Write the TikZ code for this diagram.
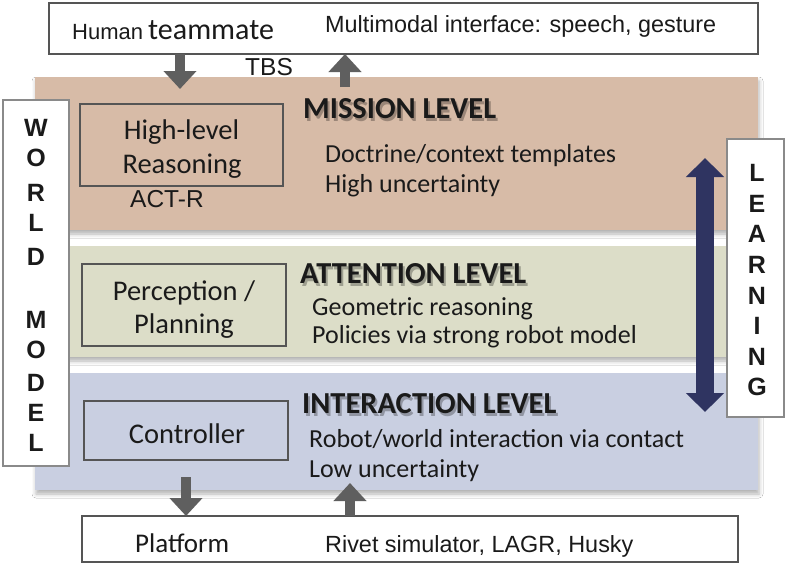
\documentclass[tikz,border=0pt]{standalone}
\usepackage{fontspec}
\newfontfamily\carlito{Carlito}
\newfontfamily\arialf{Liberation Sans}
\usetikzlibrary{arrows.meta,shadows.blur}
\definecolor{mission}{HTML}{D7BBA7}
\definecolor{attention}{HTML}{DCDDC8}
\definecolor{interact}{HTML}{C9CFE1}
\definecolor{boxline}{HTML}{555555}
\definecolor{sideline}{HTML}{8A8A8A}
\definecolor{arrowgray}{HTML}{5F5F5F}
\definecolor{navyarrow}{HTML}{2F3461}
\definecolor{ink}{HTML}{1A1A1A}
\tikzset{
  band/.style={draw=none, anchor=north west, inner sep=0pt, outer sep=0pt,
    blur shadow={shadow xshift=1pt, shadow yshift=-4pt, shadow blur radius=4pt, shadow opacity=30}},
  inbox/.style={draw=boxline, line width=2pt, anchor=north west, inner sep=0pt, outer sep=0pt},
  whitebox/.style={draw=boxline, fill=white, line width=2pt, anchor=north west, inner sep=0pt, outer sep=0pt},
  sidebox/.style={draw=sideline, fill=white, line width=2.5pt, anchor=north west, inner sep=0pt, outer sep=0pt},
  atxt/.style={font=\arialf\fontsize{23.4}{28}\selectfont, text=ink, inner sep=0pt, anchor=base west},
  ctxt/.style={font=\carlito\fontsize{26}{30}\selectfont, text=ink, inner sep=0pt, anchor=base west},
  btxt/.style={font=\carlito\fontsize{28.5}{34}\selectfont, text=ink, inner sep=0pt, anchor=base},
  ttl/.style={font=\carlito\bfseries\fontsize{30.5}{34}\selectfont, text=ink, inner sep=0pt, anchor=base west},
  ttlsh/.style={font=\carlito\bfseries\fontsize{30.5}{34}\selectfont, text=black, opacity=0.28, inner sep=0pt, anchor=base west},
  letter/.style={font=\arialf\bfseries\fontsize{25}{28}\selectfont, text=ink, inner sep=0pt},
  blockarrow/.style={draw=arrowgray, line width=9.5pt, -{Triangle[width=32pt,length=18pt]}},
  learnarrow/.style={draw=navyarrow, line width=18pt, {Triangle[width=37pt,length=19pt]}-{Triangle[width=37pt,length=19pt]}}
}
\begin{document}
\begin{tikzpicture}[x=1pt,y=-1pt]
\useasboundingbox[fill=white] (0,0) rectangle (787,568);

% level bands
\node[band, fill=mission, minimum width=723pt, minimum height=153pt] (mband) at (35,77) {};
\node[band, fill=attention, minimum width=723pt, minimum height=111pt] (aband) at (35,246) {};
\node[band, fill=interact, minimum width=723pt, minimum height=117pt] (iband) at (35,373) {};

% top and bottom boxes
\node[whitebox, minimum width=709pt, minimum height=51pt] (top) at (49,3) {};
\node[whitebox, minimum width=656pt, minimum height=46pt] (plat) at (82,516) {};

% inner boxes
\node[inbox, minimum width=203pt, minimum height=82pt] (hlr) at (80,104) {};
\node[inbox, minimum width=204pt, minimum height=82pt] (pp) at (82,264) {};
\node[inbox, minimum width=204pt, minimum height=59pt] (ctrl) at (84,401) {};

% side boxes
\node[sidebox, minimum width=66pt, minimum height=366pt] (wm) at (3,100) {};
\node[sidebox, minimum width=57pt, minimum height=278pt] (lrn) at (727,139) {};

% top texts
\node[atxt, font=\arialf\fontsize{22}{26}\selectfont] (human) at (72,39) {Human};
\node[ctxt, font=\carlito\fontsize{30}{34}\selectfont] (team) at (148,39) {teammate};
\node[atxt] (mmi) at (325,32) {Multimodal interface: speech, gesture};
\node[atxt, font=\arialf\fontsize{24.5}{28}\selectfont] (tbs) at (245,75) {TBS};

% mission level
\node[ttlsh] (msh) at (305,121) {MISSION LEVEL};
\node[ttl] (mtitle) at (303,118) {MISSION LEVEL};
\node[ctxt] (doct) at (325,162) {Doctrine/context templates};
\node[ctxt] (highu) at (325,192) {High uncertainty};
\node[btxt] (hl1) at (181.5,139) {High-level};
\node[btxt] (hl2) at (182,173) {Reasoning};
\node[atxt, font=\arialf\fontsize{24.5}{28}\selectfont] (actr) at (130,207) {ACT-R};

% attention level
\node[ttlsh] (ash) at (302,286) {ATTENTION LEVEL};
\node[ttl] (atitle) at (300,283) {ATTENTION LEVEL};
\node[ctxt] (geo) at (312,315) {Geometric reasoning};
\node[ctxt] (pol) at (312,343) {Policies via strong robot model};
\node[btxt] (pp1) at (184,300) {Perception /};
\node[btxt] (pp2) at (184,333) {Planning};

% interaction level
\node[ttlsh] (ish) at (304,416) {INTERACTION LEVEL};
\node[ttl] (ititle) at (302,413) {INTERACTION LEVEL};
\node[ctxt] (rob) at (309,447) {Robot/world interaction via contact};
\node[ctxt] (lowu) at (309,477) {Low uncertainty};
\node[btxt] (ctl) at (187,443) {Controller};

% bottom texts
\node[ctxt, font=\carlito\fontsize{27}{30}\selectfont] (platt) at (135,552) {Platform};
\node[atxt] (rivet) at (325,552) {Rivet simulator, LAGR, Husky};

% world model letters
\foreach \l/\yy [count=\k] in {W/128,O/158,R/193,L/223,D/257,M/320,O/350,D/383,E/413,L/443}
  \node[letter] (wml\k) at (36,\yy) {\l};

% learning letters
\foreach \l [count=\k from 0] in {L,E,A,R,N,I,N,G}
  \node[letter] (lrl\k) at (757,173+30.6*\k) {\l};

% arrows
\coordinate (hd) at (180,89);
\draw[blockarrow] (top.south -| hd) -- (hd);
\coordinate (tu) at (345,87);
\draw[blockarrow] (tu) -- (top.south -| tu);
\coordinate (cs) at (186,477);
\draw[blockarrow] (cs) -- (plat.north -| cs);
\coordinate (pu) at (350,483);
\draw[blockarrow] (plat.north -| pu) -- (pu);

\coordinate (lt) at (705,158);
\coordinate (lb) at (705,412);
\draw[learnarrow] (lb) -- (lt);
\end{tikzpicture}
\end{document}
